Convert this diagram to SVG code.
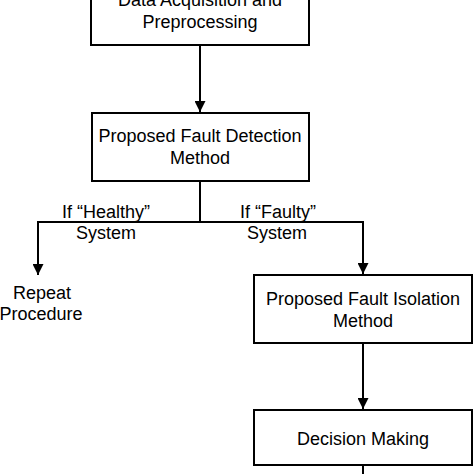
<svg xmlns="http://www.w3.org/2000/svg" width="474" height="474" viewBox="0 0 474 474">
<style>
.box{fill:#fff;stroke:#000;stroke-width:2}
.t{font-family:"Liberation Sans",Arial,sans-serif;font-size:18px;fill:#000}
.c{text-anchor:middle}
.ln{fill:none;stroke:#000;stroke-width:2}
</style>
<defs>
<marker id="ah" viewBox="0 0 10 10" refX="10" refY="5" markerWidth="5.5" markerHeight="5.5" orient="auto" markerUnits="strokeWidth">
<path d="M0,0 L10,5 L0,10 z" fill="#000"/>
</marker>
</defs>
<rect width="474" height="474" fill="#fff"/>
<g id="connectors">
<line class="ln" x1="200" y1="45" x2="200" y2="112" marker-end="url(#ah)"/>
<line class="ln" x1="200" y1="181" x2="200" y2="222"/>
<line class="ln" x1="37" y1="222" x2="364" y2="222"/>
<line class="ln" x1="38" y1="221" x2="38" y2="275" marker-end="url(#ah)"/>
<line class="ln" x1="363" y1="221" x2="363" y2="274" marker-end="url(#ah)"/>
<line class="ln" x1="363" y1="343" x2="363" y2="409" marker-end="url(#ah)"/>
<line class="ln" x1="363" y1="465" x2="363" y2="476"/>
<text class="t" x="62" y="218">If “Healthy”</text>
<text class="t" x="106" y="239" text-anchor="middle">System</text>
<text class="t" x="240" y="218">If “Faulty”</text>
<text class="t" x="277" y="239" text-anchor="middle">System</text>
</g>
<g id="n1">
<rect class="box" x="91" y="-30" width="218" height="75"/>
<text class="t c" x="200" y="6">Data Acquisition and</text>
<text class="t c" x="200" y="28">Preprocessing</text>
</g>
<g id="n2">
<rect class="box" x="92" y="113" width="217" height="68"/>
<text class="t c" x="200" y="142">Proposed Fault Detection</text>
<text class="t c" x="200" y="164">Method</text>
</g>
<g id="n3">
<text class="t c" x="42" y="299">Repeat</text>
<text class="t c" x="41" y="320">Procedure</text>
</g>
<g id="n4">
<rect class="box" x="254" y="275" width="218" height="68"/>
<text class="t c" x="363" y="305">Proposed Fault Isolation</text>
<text class="t c" x="363" y="327">Method</text>
</g>
<g id="n5">
<rect class="box" x="254" y="410" width="218" height="55"/>
<text class="t c" x="363" y="445">Decision Making</text>
</g>
</svg>
